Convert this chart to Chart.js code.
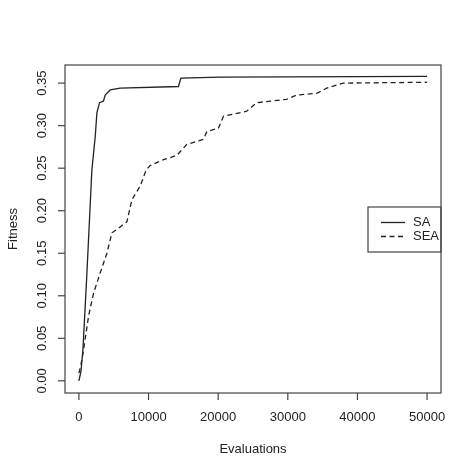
<!DOCTYPE html>
<html>
<head>
<meta charset="utf-8">
<script src="https://cdn.jsdelivr.net/npm/chart.js@4/dist/chart.umd.min.js"></script>
<style>
  html, body { margin: 0; padding: 0; background: #fff; }
  #wrap { width: 474px; height: 474px; }
</style>
</head>
<body>
<div id="wrap"><canvas id="grafico" width="474" height="474"></canvas></div>
<script>
// valores
const saX = [0, 290, 570, 1150, 1860, 2340, 2580, 2960, 3530, 3770, 4490, 5930, 14290, 14640, 20280, 50000];
const saY = [0, 0.011, 0.036, 0.127, 0.248, 0.287, 0.315, 0.327, 0.329, 0.336, 0.342, 0.344, 0.346, 0.356, 0.357, 0.358];

const seaX = [0, 290, 660, 1380, 2100, 3060, 4020, 4740, 5450, 6890, 7610, 8800, 9660, 10230, 12140, 14060,
  15500, 17880, 18370, 20030, 20760, 24100, 25540, 29850, 31280, 34150, 35590, 37970, 50000];
const seaY = [0.009, 0.019, 0.036, 0.076, 0.103, 0.127, 0.150, 0.174, 0.178, 0.187, 0.213, 0.229, 0.248, 0.253,
  0.260, 0.265, 0.278, 0.284, 0.293, 0.297, 0.311, 0.317, 0.327, 0.331, 0.336, 0.338, 0.344, 0.350, 0.351];

const xTicks = [0, 10000, 20000, 30000, 40000, 50000];
const yTicks = [0, 0.05, 0.10, 0.15, 0.20, 0.25, 0.30, 0.35];
const xTitle = 'Evaluations';
const yTitle = 'Fitness';
const seriesNames = ['SA', 'SEA'];

const toPoints = (xs, ys) => xs.map((x, i) => ({x: x, y: ys[i]}));

const font = '13px "Liberation Sans", Arial, sans-serif';
const ink = '#222';

const rStyle = {
  id: 'rStyle',
  beforeDraw(chart) {
    const c = chart.ctx;
    c.save();
    c.fillStyle = '#fff';
    c.fillRect(0, 0, chart.width, chart.height);
    c.restore();
  },
  afterDraw(chart) {
    const c = chart.ctx;
    const a = chart.chartArea;
    const xs = chart.scales.x;
    const ys = chart.scales.y;
    c.save();
    // caja
    c.strokeStyle = '#444';
    c.lineWidth = 1.2;
    c.strokeRect(a.left, a.top, a.right - a.left, a.bottom - a.top);
    c.fillStyle = ink;
    c.font = font;
    // eje x
    c.textAlign = 'center';
    c.textBaseline = 'middle';
    xTicks.forEach(t => {
      const px = xs.getPixelForValue(t);
      c.beginPath();
      c.moveTo(px, a.bottom);
      c.lineTo(px, a.bottom + 7);
      c.stroke();
      c.fillText(String(t), px, 417);
    });
    c.fillText(xTitle, (a.left + a.right) / 2, 449);
    // eje y
    yTicks.forEach(t => {
      const py = ys.getPixelForValue(t);
      c.beginPath();
      c.moveTo(a.left, py);
      c.lineTo(a.left - 7, py);
      c.stroke();
      c.save();
      c.translate(42, py);
      c.rotate(-Math.PI / 2);
      c.fillText(t.toFixed(2), 0, 0);
      c.restore();
    });
    c.save();
    c.translate(13, (a.top + a.bottom) / 2);
    c.rotate(-Math.PI / 2);
    c.fillText(yTitle, 0, 0);
    c.restore();
    // leyenda
    c.strokeStyle = '#444';
    c.strokeRect(368, 207, a.right - 368, 45);
    c.textAlign = 'left';
    chart.data.datasets.forEach((ds, i) => {
      const ly = 222.5 + i * 14;
      c.strokeStyle = ds.borderColor;
      c.lineWidth = ds.borderWidth;
      c.setLineDash(ds.borderDash || []);
      c.beginPath();
      c.moveTo(381, ly);
      c.lineTo(405, ly);
      c.stroke();
      c.setLineDash([]);
      c.fillText(ds.label, 413, ly);
    });
    c.restore();
  }
};

const config = {
  type: 'scatter',
  data: {
    datasets: [
      {
        label: seriesNames[0],
        data: toPoints(saX, saY),
        showLine: true,
        borderColor: '#222',
        borderWidth: 1.3,
        pointRadius: 0,
        tension: 0
      },
      {
        label: seriesNames[1],
        data: toPoints(seaX, seaY),
        showLine: true,
        borderColor: '#222',
        borderWidth: 1.3,
        borderDash: [5, 3.5],
        pointRadius: 0,
        tension: 0
      }
    ]
  },
  options: {
    responsive: false,
    animation: false,
    layout: { padding: { left: 65, top: 65, right: 33, bottom: 81 } },
    plugins: { legend: { display: false }, tooltip: { enabled: false } },
    scales: {
      x: {
        type: 'linear', min: -2000, max: 52000,
        ticks: { display: false }, grid: { display: false }, border: { display: false },
        afterFit: s => { s.height = 0; }
      },
      y: {
        type: 'linear', min: -0.0143, max: 0.3713,
        ticks: { display: false }, grid: { display: false }, border: { display: false },
        afterFit: s => { s.width = 0; }
      }
    }
  },
  plugins: [rStyle]
};

let miGrafico = new Chart(document.getElementById('grafico'), config);
</script>
</body>
</html>
